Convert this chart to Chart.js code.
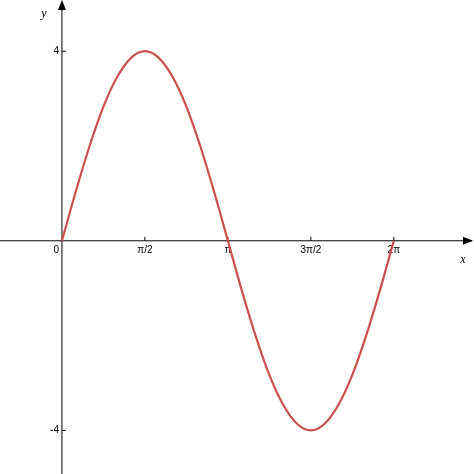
<!DOCTYPE html>
<html>
<head>
<meta charset="utf-8">
<script src="https://cdn.jsdelivr.net/npm/chart.js@4/dist/chart.umd.min.js"></script>
<style>
  html, body { margin: 0; padding: 0; background: #fff; }
  #wrap { width: 474px; height: 474px; }
</style>
</head>
<body>
<div id="wrap"><canvas id="chart"></canvas></div>
<script>
/* data: x in steps of pi/12, y */
const xSteps = [0, 1, 2, 3, 4, 5, 6, 7, 8, 9, 10, 11, 12, 13, 14, 15, 16, 17, 18, 19, 20, 21, 22, 23, 24];
const yValues = [0, 1.04, 2, 2.83, 3.46, 3.86, 4, 3.86, 3.46, 2.83, 2, 1.04, 0,
    -1.04, -2, -2.83, -3.46, -3.86, -4, -3.86, -3.46, -2.83, -2, -1.04, 0];
const xTickValues = [6, 12, 18, 24];
const xTickLabels = ["π/2", "π", "3π/2", "2π"];
const yTickValues = [4, -4];
const yTickLabels = ["4", "-4"];

/* axes drawn by hand through the chart scales */
const axesPlugin = {
    id: "axes",
    beforeDatasetsDraw(chart) {
        const ctx = chart.ctx;
        const xs = chart.scales.x;
        const ys = chart.scales.y;
        const x0 = xs.getPixelForValue(0);
        const y0 = ys.getPixelForValue(0);
        const w = chart.width;
        const h = chart.height;

        ctx.save();
        ctx.strokeStyle = "#000";
        ctx.fillStyle = "#000";
        ctx.lineWidth = 1;
        ctx.beginPath();
        ctx.moveTo(0, y0); ctx.lineTo(w - 2, y0);
        ctx.moveTo(x0, h); ctx.lineTo(x0, 2);
        ctx.stroke();

        // arrow heads
        ctx.beginPath();
        ctx.moveTo(w - 1, y0); ctx.lineTo(w - 11, y0 - 4); ctx.lineTo(w - 11, y0 + 4);
        ctx.closePath(); ctx.fill();
        ctx.beginPath();
        ctx.moveTo(x0, 0); ctx.lineTo(x0 - 4, 10); ctx.lineTo(x0 + 4, 10);
        ctx.closePath(); ctx.fill();

        ctx.font = "10px 'Liberation Sans', Arial, sans-serif";
        ctx.textAlign = "center";
        ctx.textBaseline = "top";
        xTickValues.forEach((v, i) => {
            const px = xs.getPixelForValue(v);
            ctx.beginPath(); ctx.moveTo(px, y0); ctx.lineTo(px, y0 - 4); ctx.stroke();
            ctx.fillText(xTickLabels[i], px, y0 + 4);
        });
        ctx.textAlign = "right";
        ctx.fillText("0", x0 - 3, y0 + 4);
        ctx.textBaseline = "middle";
        yTickValues.forEach((v, i) => {
            const py = ys.getPixelForValue(v);
            ctx.beginPath(); ctx.moveTo(x0, py); ctx.lineTo(x0 + 4, py); ctx.stroke();
            ctx.fillText(yTickLabels[i], x0 - 3, py);
        });

        ctx.font = "italic 12px 'Liberation Serif', 'Times New Roman', serif";
        ctx.textAlign = "center";
        ctx.fillText("x", w - 11, y0 + 19);
        ctx.fillText("y", x0 - 18, 14);
        ctx.restore();
    }
};

new Chart(document.querySelector("#chart"), {
    type: "line",
    data: {
        datasets: [
            {
                data: xSteps.map((x, i) => ({ x: x, y: yValues[i] })),
                borderColor: "#c9504c",
                borderWidth: 2.2,
                pointRadius: 0,
                tension: 0.4,
                cubicInterpolationMode: "monotone",
                fill: false
            }
        ]
    },
    options: {
        responsive: true,
        maintainAspectRatio: false,
        animation: false,
        layout: { padding: 0 },
        plugins: {
            legend: { display: false },
            tooltip: { enabled: false }
        },
        scales: {
            x: { type: "linear", min: -4.48, max: 29.8, display: false },
            y: { type: "linear", min: -4.92, max: 5.08, display: false }
        }
    },
    plugins: [axesPlugin]
});
</script>
</body>
</html>
